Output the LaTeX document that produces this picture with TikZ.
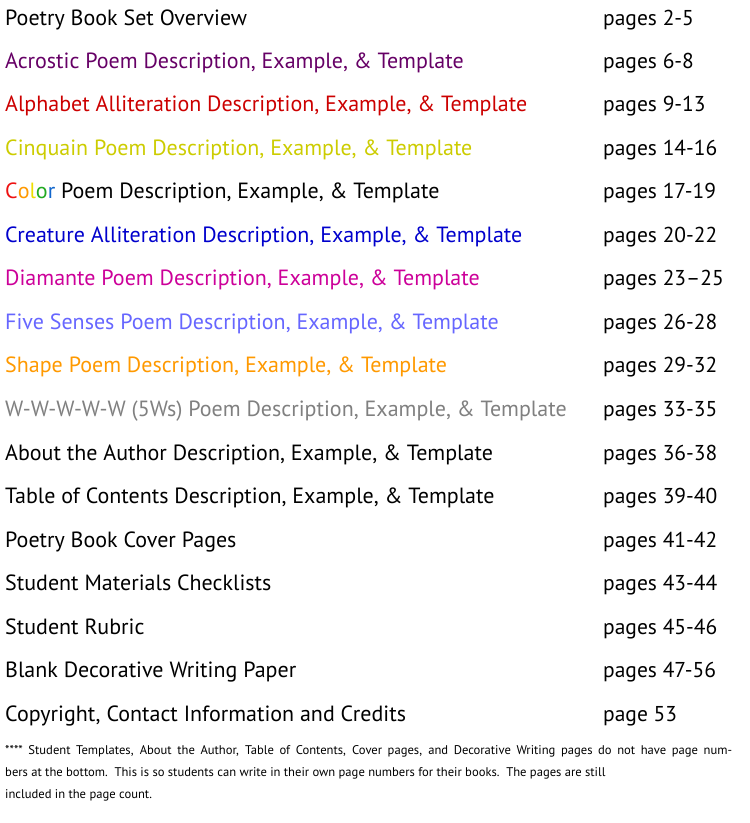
\documentclass[tikz,border=0pt]{standalone}
\usepackage{fontspec}
\setmainfont{PT Sans}
\definecolor{cpurple}{HTML}{660066}
\definecolor{cred}{HTML}{CC0000}
\definecolor{cyellow}{HTML}{CCCC00}
\definecolor{cblue}{HTML}{0000CC}
\definecolor{cmagenta}{HTML}{CC0099}
\definecolor{cperi}{HTML}{6666FF}
\definecolor{corange}{HTML}{FF9900}
\definecolor{cgray}{HTML}{808080}
\definecolor{lred}{HTML}{EE1111}
\definecolor{lorange}{HTML}{FF9900}
\definecolor{lyellow}{HTML}{EEDD00}
\definecolor{lgreen}{HTML}{22AA22}
\definecolor{lblue}{HTML}{1166CC}
\tikzset{
  entry/.style={anchor=base west, inner sep=0pt, font=\fontsize{22}{26}\selectfont},
  pagenum/.style={anchor=base west, inner sep=0pt, font=\fontsize{21.5}{26}\selectfont},
  note/.style={anchor=base west, inner sep=0pt, font=\fontsize{12.6}{15}\selectfont}
}
\begin{document}
\begin{tikzpicture}[x=1pt,y=-1pt]
\useasboundingbox (0,0) rectangle (750,823);
\node[entry] (e1) at (5,25) {Poetry Book Set Overview};
\node[entry, text=cpurple] (e2) at (5,68) {Acrostic Poem Description, Example, \& Template};
\node[entry, text=cred] (e3) at (5,111) {Alphabet Alliteration Description, Example, \& Template};
\node[entry, text=cyellow] (e4) at (5,155) {Cinquain Poem Description, Example, \& Template};
\node[entry] (e5) at (5,198) {\textcolor{lred}{C}\textcolor{lorange}{o}\textcolor{lyellow}{l}\textcolor{lgreen}{o}\textcolor{lblue}{r} Poem Description, Example, \& Template};
\node[entry, text=cblue] (e6) at (5,242) {Creature Alliteration Description, Example, \& Template};
\node[entry, text=cmagenta] (e7) at (5,285) {Diamante Poem Description, Example, \& Template};
\node[entry, text=cperi] (e8) at (5,329) {Five Senses Poem Description, Example, \& Template};
\node[entry, text=corange] (e9) at (5,372) {Shape Poem Description, Example, \& Template};
\node[entry, text=cgray] (e10) at (5,416) {W-W-W-W-W (5Ws) Poem Description, Example, \& Template};
\node[entry] (e11) at (5,460) {About the Author Description, Example, \& Template};
\node[entry] (e12) at (5,503) {Table of Contents Description, Example, \& Template};
\node[entry] (e13) at (5,547) {Poetry Book Cover Pages};
\node[entry] (e14) at (5,590) {Student Materials Checklists};
\node[entry] (e15) at (5,634) {Student Rubric};
\node[entry] (e16) at (5,677) {Blank Decorative Writing Paper};
\node[entry] (e17) at (5,721) {Copyright, Contact Information and Credits};
\node[pagenum] (p1) at (603,25) {pages 2-5};
\node[pagenum] (p2) at (603,68) {pages 6-8};
\node[pagenum] (p3) at (603,111) {pages 9-13};
\node[pagenum] (p4) at (603,155) {pages 14-16};
\node[pagenum] (p5) at (603,198) {pages 17-19};
\node[pagenum] (p6) at (603,242) {pages 20-22};
\node[pagenum] (p7) at (603,285) {pages 23--25};
\node[pagenum] (p8) at (603,329) {pages 26-28};
\node[pagenum] (p9) at (603,372) {pages 29-32};
\node[pagenum] (p10) at (603,416) {pages 33-35};
\node[pagenum] (p11) at (603,460) {pages 36-38};
\node[pagenum] (p12) at (603,503) {pages 39-40};
\node[pagenum] (p13) at (603,547) {pages 41-42};
\node[pagenum] (p14) at (603,590) {pages 43-44};
\node[pagenum] (p15) at (603,634) {pages 45-46};
\node[pagenum] (p16) at (603,677) {pages 47-56};
\node[pagenum] (p17) at (603,721) {page 53};
\node[note] (n1) at (5,754) {\makebox[727pt][s]{**** Student Templates, About the Author, Table of Contents, Cover pages, and Decorative Writing pages do not have page num-}};
\node[note] (n2) at (5,776) {bers at the bottom.\ \ This is so students can write in their own page numbers for their books.\ \ The pages are still};
\node[note] (n3) at (5,798) {included in the page count.};
\end{tikzpicture}
\end{document}
